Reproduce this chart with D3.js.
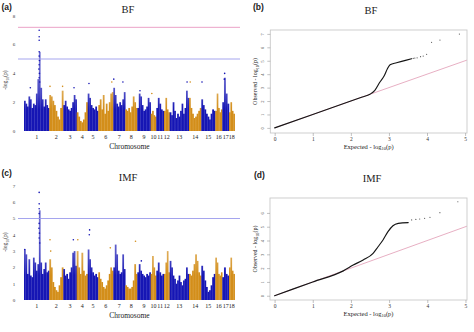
<!DOCTYPE html>
<html>
<head>
<meta charset="utf-8">
<script src="https://cdn.jsdelivr.net/npm/d3@7"></script>
<style>
    body { margin: 0; background: #fff; }
    svg text { font-family: "Liberation Serif", "DejaVu Serif", serif; fill: #222; }
    .tag { font-family: "Liberation Sans", Arial, sans-serif; font-weight: bold; font-size: 8.5px; }
    .title { font-size: 10.5px; }
    .tick-label { font-size: 5px; fill: #333; }
    .chr-label { font-size: 6px; }
    .axis-title { font-size: 6.5px; }
    .qq .tick text { fill: #333; }
</style>
</head>
<body>
<div id="chart"></div>
<script>

// chromosomes and their relative lengths along the genome axis
const chromosomes = ["1", "2", "3", "4", "5", "6", "7", "8", "9", "10", "11", "12", "13", "14", "15", "16", "17", "18"];
const chrLength = [253, 140, 134, 110, 106, 150, 120, 120, 134, 56, 77, 57, 193, 123, 140, 70, 67, 57];

// top of the SNP cloud in consecutive windows along each chromosome (-log10 p)
const bfTops = [
    [2.1, 1.9, 1.7, 2.4, 2.2, 1.6, 1.9, 1.8, 2.6, 3.6, 5.5, 3.0, 2.2, 1.7, 2.2, 1.8, 1.6],
    [2.5, 2.4, 2.1, 1.8, 1.4, 1.0, 0.8, 1.6, 2.8],
    [1.8, 2.1, 1.7, 1.5, 1.4, 1.6, 2.0, 2.5, 2.2],
    [1.3, 1.0, 0.7, 0.6, 0.8, 1.3, 2.0],
    [2.6, 2.3, 1.8, 1.6, 1.5, 1.7, 1.4],
    [1.8, 2.2, 1.5, 2.5, 1.2, 1.9, 1.4, 2.0, 2.6, 2.7],
    [3.0, 2.5, 1.9, 1.7, 2.0, 1.8, 2.2, 2.7],
    [1.5, 1.4, 1.6, 1.3, 1.7, 2.4, 2.0, 1.6],
    [1.6, 2.6, 2.4, 1.8, 1.4, 1.5, 1.7, 2.3, 2.0],
    [1.2, 1.4, 1.1, 1.0],
    [1.6, 2.3, 1.9, 1.5, 1.4],
    [1.4, 2.3, 1.5, 1.3],
    [1.3, 1.1, 2.0, 1.4, 0.9, 1.2, 1.0, 1.4, 1.9, 1.2, 1.6, 2.8, 2.3],
    [2.3, 1.6, 1.2, 0.9, 1.0, 1.2, 1.4, 1.6],
    [2.2, 1.8, 1.5, 1.2, 1.0, 0.8, 1.2, 1.5, 1.4],
    [1.4, 2.6, 1.6, 1.3, 1.5],
    [2.0, 3.7, 2.6, 1.9],
    [1.3, 2.0, 1.4, 1.2]
];

const imfTops = [
    [3.1, 2.8, 1.6, 2.5, 1.5, 1.4, 2.6, 2.3, 1.8, 2.2, 5.5, 2.3, 1.6, 1.9, 2.3, 1.7, 1.8],
    [2.5, 2.0, 1.1, 0.8, 0.6, 0.5, 0.9, 1.4, 2.0],
    [1.9, 1.5, 1.6, 1.3, 1.7, 2.0, 2.9, 3.0, 2.1],
    [3.0, 2.0, 1.6, 2.9, 1.8, 1.5, 1.6],
    [3.1, 2.5, 2.0, 1.7, 1.5, 1.6, 1.4],
    [1.7, 1.3, 1.1, 0.8, 0.7, 0.9, 1.2, 1.6, 2.0, 1.8],
    [2.0, 3.4, 2.8, 1.8, 1.6, 1.7, 2.8, 1.9],
    [0.9, 0.8, 0.7, 0.7, 0.8, 1.2, 2.2, 1.6],
    [1.7, 2.2, 1.8, 1.6, 1.5, 1.4, 1.6, 1.5, 1.7],
    [1.6, 2.7, 2.0, 1.5],
    [1.8, 2.3, 1.7, 1.5, 1.6],
    [1.6, 2.3, 3.0, 1.7],
    [2.4, 2.0, 1.5, 1.3, 1.0, 1.2, 1.5, 1.1, 0.9, 1.2, 1.3, 2.0, 1.6],
    [1.6, 1.5, 1.8, 2.2, 2.8, 2.4, 1.7, 1.5],
    [2.1, 1.8, 1.2, 0.8, 0.5, 0.6, 0.9, 1.4, 1.6],
    [2.6, 2.3, 1.6, 1.5, 1.7],
    [1.4, 2.0, 1.6, 1.5],
    [2.0, 2.6, 1.8, 1.6]
];

// single SNPs above the cloud: [chromosome index, relative position, -log10 p]
const bfHits = [
    [0, 0.6, 7.0], [0, 0.6, 6.55], [0, 0.6, 6.3], [0, 0.6, 5.5], [0, 0.6, 5.2], [0, 0.61, 4.9],
    [0, 0.6, 4.6], [0, 0.59, 4.3], [0, 0.61, 4.0], [0, 0.6, 3.7], [0, 0.62, 3.4], [0, 0.25, 3.0],
    [1, 0.05, 3.1], [1, 0.95, 3.1], [2, 0.8, 3.0], [4, 0.12, 3.3], [5, 0.9, 3.4],
    [6, 0.04, 3.6], [6, 0.8, 3.4], [8, 0.2, 2.8], [9, 0.2, 2.6], [12, 0.9, 3.4],
    [13, 0.1, 3.4], [14, 0.05, 3.4], [16, 0.35, 4.0], [16, 0.3, 3.6]
];

const imfHits = [
    [0, 0.6, 6.6], [0, 0.6, 5.9], [0, 0.6, 5.6], [0, 0.6, 5.3], [0, 0.61, 5.0], [0, 0.6, 4.7],
    [0, 0.59, 4.4], [0, 0.61, 4.1], [0, 0.6, 3.8], [0, 0.62, 3.5], [0, 0.03, 3.1],
    [1, 0.05, 3.7], [1, 0.1, 3.0], [2, 0.75, 3.7], [3, 0.1, 3.7], [4, 0.15, 4.0], [4, 0.18, 4.3],
    [5, 0.8, 3.2], [7, 0.85, 3.6], [8, 0.3, 2.4]
];

// significance thresholds (-log10 p)
const genomeWide = 7.2;
const suggestive = 5;

// QQ plots: dense run of points as [expected, observed], then the sparse tail
const bfQQ = [[0, 0], [1, 1], [2, 2], [2.3, 2.3], [2.5, 2.5], [2.63, 2.8], [2.76, 3.4], [2.88, 3.9],
    [2.96, 4.4], [3.03, 4.7], [3.2, 4.85], [3.46, 5.05], [3.6, 5.15]];
const bfQQTail = [[3.64, 5.18], [3.68, 5.2], [3.74, 5.22], [3.83, 5.3], [3.9, 5.35], [3.99, 5.48],
    [4.12, 6.37], [4.34, 6.54], [4.85, 6.99]];

const imfQQ = [[0, 0], [1, 1], [1.8, 1.8], [2.06, 2.22], [2.32, 2.59], [2.58, 3.07], [2.71, 3.55],
    [2.84, 4.04], [2.97, 4.64], [3.1, 5.07], [3.24, 5.24], [3.5, 5.3]];
const imfQQTail = [[3.59, 5.49], [3.7, 5.53], [3.8, 5.56], [3.93, 5.61], [4.07, 5.68], [4.33, 6.02], [4.8, 6.81]];


const blue = "#1616b4";
const orange = "#d38e1a";

const svg = d3.select("#chart").append("svg")
    .attr("width", 474)
    .attr("height", 332);

svg.append("rect").attr("width", 474).attr("height", 332).attr("fill", "#fff");

const defs = svg.append("defs");


class ManhattanVis {

    constructor(id, tops, hits, lines, layout) {
        this.id = id;
        this.tops = tops;
        this.hits = hits;
        this.lines = lines;
        this.layout = layout;

        this.initVis();
    }

    initVis() {
        let vis = this;
        let L = vis.layout;

        vis.g = svg.append("g").attr("class", "manhattan " + vis.id);

        // cumulative start of each chromosome
        vis.starts = [];
        let acc = 0;
        chrLength.forEach(len => { vis.starts.push(acc); acc += len; });

        vis.x = d3.scaleLinear().domain([0, acc]).range([L.left, L.right]);
        vis.y = d3.scaleLinear().domain([0, L.yMax]).range([L.bottom, L.top]);

        // SNP cloud thins out upwards
        vis.fill = [blue, orange].map((col, k) => {
            let gid = `grad-${vis.id}-${k}`;
            let grad = defs.append("linearGradient")
                .attr("id", gid)
                .attr("gradientUnits", "userSpaceOnUse")
                .attr("x1", 0).attr("x2", 0)
                .attr("y1", vis.y(0)).attr("y2", vis.y(4));
            [[0, 1], [0.38, 1], [0.65, 0.78], [1, 0.62]].forEach(s => {
                grad.append("stop")
                    .attr("offset", s[0])
                    .attr("stop-color", col)
                    .attr("stop-opacity", s[1]);
            });
            return `url(#${gid})`;
        });

        vis.wrangleData();
    }

    wrangleData() {
        let vis = this;

        vis.columns = [];
        vis.tops.forEach((arr, c) => {
            let step = chrLength[c] / arr.length;
            arr.forEach((v, i) => {
                vis.columns.push({chr: c, from: vis.starts[c] + i * step, to: vis.starts[c] + (i + 1) * step, value: v});
            });
        });

        vis.points = vis.hits.map(h => ({chr: h[0], pos: vis.starts[h[0]] + h[1] * chrLength[h[0]], value: h[2]}));

        vis.updateVis();
    }

    updateVis() {
        let vis = this;
        let L = vis.layout;

        vis.g.append("g").selectAll("rect")
            .data(vis.columns)
            .enter()
            .append("rect")
            .attr("x", d => vis.x(d.from))
            .attr("width", d => vis.x(d.to) - vis.x(d.from) + 0.25)
            .attr("y", d => vis.y(d.value))
            .attr("height", d => vis.y(0) - vis.y(d.value))
            .attr("fill", d => vis.fill[d.chr % 2]);

        vis.g.append("g").selectAll("circle")
            .data(vis.points)
            .enter()
            .append("circle")
            .attr("cx", d => vis.x(d.pos))
            .attr("cy", d => vis.y(d.value))
            .attr("r", 0.8)
            .attr("fill", d => d.chr % 2 ? orange : blue);

        // threshold lines
        vis.g.selectAll(".threshold")
            .data(vis.lines)
            .enter()
            .append("line")
            .attr("class", "threshold")
            .attr("x1", L.lineFrom).attr("x2", L.lineTo)
            .attr("y1", d => vis.y(d.value)).attr("y2", d => vis.y(d.value))
            .attr("stroke", d => d.color)
            .attr("stroke-width", 0.9);

        // y ticks
        vis.g.selectAll(".tick-label")
            .data(vis.y.ticks(L.tickCount).filter(t => t <= L.yMax))
            .enter()
            .append("text")
            .attr("class", "tick-label")
            .attr("x", L.left - 10)
            .attr("y", d => vis.y(d) + 1.8)
            .attr("text-anchor", "middle")
            .text(d => d);

        // chromosome labels
        vis.g.selectAll(".chr-label")
            .data(chromosomes)
            .enter()
            .append("text")
            .attr("class", "chr-label")
            .attr("x", (d, i) => vis.x(vis.starts[i] + chrLength[i] / 2))
            .attr("y", L.bottom + 8)
            .attr("text-anchor", "middle")
            .text(d => d);

        vis.g.append("text")
            .attr("class", "axis-title")
            .attr("x", (L.left + L.right) / 2)
            .attr("y", L.bottom + 17.5)
            .attr("text-anchor", "middle")
            .style("font-size", "7.5px")
            .text("Chromosome");

        let yl = vis.g.append("text")
            .attr("class", "tick-label")
            .attr("transform", `translate(${L.left - 17}, ${L.labelY}) rotate(-90)`)
            .attr("text-anchor", "middle")
            .style("font-size", "5.5px");
        yl.append("tspan").text("-log");
        yl.append("tspan").attr("dy", 1.5).style("font-size", "4px").text("10");
        yl.append("tspan").attr("dy", -1.5).text("(p)");
    }
}


class QQVis {

    constructor(id, dense, tail, layout) {
        this.id = id;
        this.dense = dense;
        this.tail = tail;
        this.layout = layout;

        this.initVis();
    }

    initVis() {
        let vis = this;
        let L = vis.layout;

        vis.g = svg.append("g").attr("class", "qq " + vis.id);

        vis.x = d3.scaleLinear().domain(L.xDomain).range([L.left, L.right]);
        vis.y = d3.scaleLinear().domain(L.yDomain).range([L.bottom, L.top]);

        vis.updateVis();
    }

    updateVis() {
        let vis = this;
        let L = vis.layout;

        // expected = observed reference line
        let lim = Math.min(L.xDomain[1], L.yDomain[1]);
        vis.g.append("line")
            .attr("x1", vis.x(0)).attr("y1", vis.y(0))
            .attr("x2", vis.x(lim)).attr("y2", vis.y(lim))
            .attr("stroke", "#e4a6bc")
            .attr("stroke-width", 0.9);

        vis.g.append("path")
            .datum(vis.dense)
            .attr("d", d3.line().x(d => vis.x(d[0])).y(d => vis.y(d[1])).curve(d3.curveMonotoneX))
            .attr("fill", "none")
            .attr("stroke", "#151515")
            .attr("stroke-width", 1.15)
            .attr("stroke-linecap", "round");

        vis.g.append("g").selectAll("circle")
            .data(vis.tail)
            .enter()
            .append("circle")
            .attr("cx", d => vis.x(d[0]))
            .attr("cy", d => vis.y(d[1]))
            .attr("r", 0.6)
            .attr("fill", "#555");

        vis.g.append("rect")
            .attr("x", L.left).attr("y", L.top)
            .attr("width", L.right - L.left).attr("height", L.bottom - L.top)
            .attr("fill", "none")
            .attr("stroke", "#c9c9c9")
            .attr("stroke-width", 0.9);

        // axes
        let xAxis = d3.axisBottom(vis.x).tickValues(d3.range(0, 6))
            .tickFormat(d3.format("d")).tickSize(3).tickPadding(1.5);
        let yAxis = d3.axisLeft(vis.y).tickValues(d3.range(0, L.yTop + 1))
            .tickFormat(d3.format("d")).tickSize(3).tickPadding(2);

        let gx = vis.g.append("g").attr("transform", `translate(0, ${L.bottom})`).call(xAxis);
        let gy = vis.g.append("g").attr("transform", `translate(${L.left}, 0)`).call(yAxis);

        [gx, gy].forEach(a => {
            a.select(".domain").remove();
            a.selectAll("line").attr("stroke", "#999").attr("stroke-width", 0.6);
            a.selectAll("text")
                .attr("font-family", "Liberation Serif, serif")
                .attr("font-size", 5.5)
                .style("fill", "#333");
        });
        gy.selectAll("text")
            .attr("font-size", 4.5)
            .attr("text-anchor", "middle")
            .attr("dy", null)
            .attr("transform", function() {
                let tx = d3.select(this).attr("x");
                return `translate(${+tx - 1}, 0) rotate(-90)`;
            })
            .attr("x", 0)
            .attr("y", 0);

        let xt = vis.g.append("text")
            .attr("class", "axis-title")
            .attr("x", (L.left + L.right) / 2)
            .attr("y", L.bottom + 15.5)
            .attr("text-anchor", "middle");
        xt.append("tspan").text("Expected - log");
        xt.append("tspan").attr("dy", 1.6).style("font-size", "4.5px").text("10");
        xt.append("tspan").attr("dy", -1.6).text("(p)");

        let yt = vis.g.append("text")
            .attr("class", "axis-title")
            .attr("transform", `translate(${L.left - 13}, ${(L.top + L.bottom) / 2}) rotate(-90)`)
            .attr("text-anchor", "middle")
            .style("font-size", "6px");
        yt.append("tspan").text("Observed - log");
        yt.append("tspan").attr("dy", 1.5).style("font-size", "4.2px").text("10");
        yt.append("tspan").attr("dy", -1.5).text("(p)");
    }
}


new ManhattanVis("bf", bfTops, bfHits,
    [{value: genomeWide, color: "#e896bf"}, {value: suggestive, color: "#9b9bec"}],
    {left: 24, right: 234.7, bottom: 131, top: 15.8, yMax: 8, tickCount: 4, lineFrom: 18, lineTo: 240, labelY: 80});

new ManhattanVis("imf", imfTops, imfHits,
    [{value: suggestive, color: "#9b9bec"}],
    {left: 24, right: 234.7, bottom: 300, top: 185.9, yMax: 7, tickCount: 7, lineFrom: 18, lineTo: 240, labelY: 242});

new QQVis("bf", bfQQ, bfQQTail,
    {left: 270.3, right: 467, top: 30, bottom: 133, xDomain: [-0.115, 5.05], yDomain: [-0.38, 7.29], yTop: 7});

new QQVis("imf", imfQQ, imfQQTail,
    {left: 270, right: 467, top: 198, bottom: 300, xDomain: [-0.12, 5.04], yDomain: [-0.31, 7.08], yTop: 6});

// panel tags and titles
const tags = [
    {tag: "(a)", x: 1.5, y: 10, title: "BF", tx: 128, ty: 13},
    {tag: "(b)", x: 253, y: 10, title: "BF", tx: 371, ty: 14},
    {tag: "(c)", x: 1.5, y: 176, title: "IMF", tx: 128, ty: 181},
    {tag: "(d)", x: 254, y: 178, title: "IMF", tx: 372, ty: 182}
];

svg.selectAll(".tag")
    .data(tags)
    .enter()
    .append("text")
    .attr("class", "tag")
    .attr("x", d => d.x)
    .attr("y", d => d.y)
    .text(d => d.tag);

svg.selectAll(".title")
    .data(tags)
    .enter()
    .append("text")
    .attr("class", "title")
    .attr("x", d => d.tx)
    .attr("y", d => d.ty)
    .attr("text-anchor", "middle")
    .text(d => d.title);

</script>
</body>
</html>
